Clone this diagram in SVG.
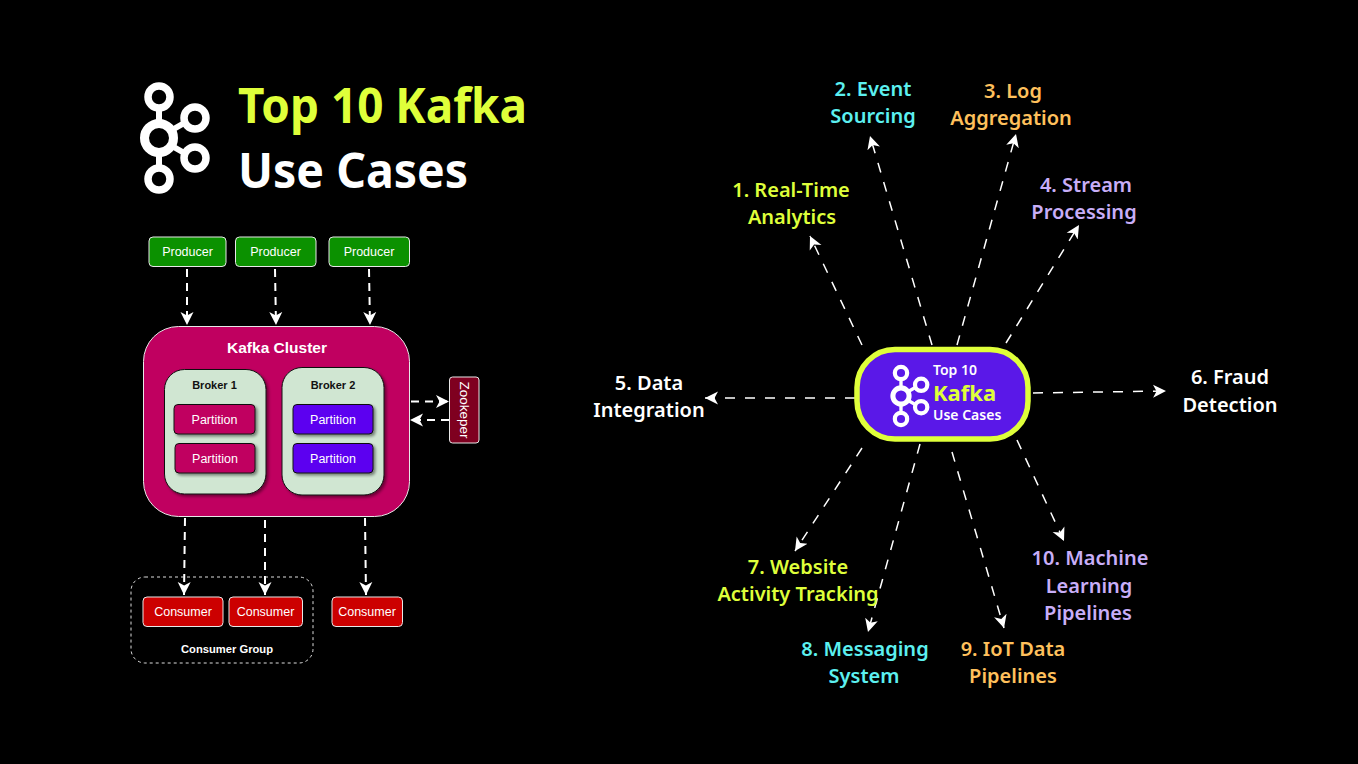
<svg xmlns="http://www.w3.org/2000/svg" width="1358" height="764" viewBox="0 0 1358 764">
<style>
text{font-family:"Noto Sans","Liberation Sans",sans-serif}
.t{font-weight:600;font-size:20px;text-anchor:middle}
.h{text-anchor:middle;fill:#fff}
text.h{font-family:"Liberation Sans",Arial,sans-serif}
.y{fill:#dfff3a}.c{fill:#5cf0f0}.o{fill:#ffc05c}.p{fill:#c8aef8}.w{fill:#fff}
.box{stroke:#e8e8e8;stroke-width:1}
.g{fill:#0b9100}.r{fill:#cc0000}.m{fill:#c00060}.v{fill:#5c00f0}
.b{fill:#d0e6d2;stroke:#111;stroke-width:1;filter:url(#sh)}
.pt{stroke:#111;stroke-width:1;filter:url(#sh)}
.a{fill:none;stroke:#fff;stroke-width:1.500;stroke-dasharray:10 10;marker-end:url(#ah)}
.a2{fill:none;stroke:#fff;stroke-width:2;stroke-dasharray:8 6;marker-end:url(#ah)}
.lg{fill:none;stroke:#fff}
</style>
<defs>
<filter id="sh" x="-10%" y="-10%" width="125%" height="125%"><feDropShadow dx="2" dy="2" stdDeviation="1.500" flood-color="#000" flood-opacity=".45"/></filter>
<marker id="ah" markerUnits="userSpaceOnUse" markerWidth="16" markerHeight="16" refX="13" refY="8" orient="auto">
<path d="M0 1.500L13 8L0 14.500L3.500 8Z" fill="#fff"/>
</marker>
<symbol id="logo" overflow="visible">
<g class="lg">
<path d="M0 -32V-18M0 18V32M13 -8L27 -16M13 8L27 16" stroke-width="6"/>
<circle r="14.500" stroke-width="9"/>
<circle cy="-41" r="11" stroke-width="7.500"/>
<circle cy="41" r="11" stroke-width="7.500"/>
<circle cx="36" cy="-20" r="11" stroke-width="7.500"/>
<circle cx="36" cy="20" r="11" stroke-width="7.500"/>
</g>
</symbol>
</defs>
<rect width="1358" height="764" fill="#000"/>
<g id="title">
<use href="#logo" x="159" y="138"/>
<text x="238" y="123" font-size="49" font-weight="700" class="y" textLength="289" lengthAdjust="spacingAndGlyphs">Top 10 Kafka</text>
<text x="238" y="188" font-size="49" font-weight="700" class="w" textLength="230" lengthAdjust="spacingAndGlyphs">Use Cases</text>
</g>
<g id="connectors">
<path class="a2" d="M187 269L187 325"/>
<path class="a2" d="M275 269L276 325"/>
<path class="a2" d="M369 269L370 325"/>
<path class="a2" d="M411 401.500L449 401.500"/>
<path class="a2" d="M449 420L410 420"/>
<path class="a2" d="M185 518L184 595"/>
<path class="a2" d="M265 520L265 595"/>
<path class="a2" d="M365 518L366 595"/>
<path class="a" d="M862 345L810 236"/>
<path class="a" d="M932 345L870 136"/>
<path class="a" d="M957 345L1016 134"/>
<path class="a" d="M1006 343L1079 225"/>
<path class="a" d="M855 398L705 398"/>
<path class="a" d="M1033 393L1166 391"/>
<path class="a" d="M862 448L795 551"/>
<path class="a" d="M920 444L868 632"/>
<path class="a" d="M952 452L1004 628"/>
<path class="a" d="M1017 440L1064 541"/>
</g>
<g id="producer1"><rect class="box g" x="149" y="237" width="77" height="29.500" rx="4"/><text class="h" x="187.500" y="256" font-size="12.500">Producer</text></g>
<g id="producer2"><rect class="box g" x="235.500" y="237" width="80.500" height="29.500" rx="4"/><text class="h" x="275.500" y="256" font-size="12.500">Producer</text></g>
<g id="producer3"><rect class="box g" x="329" y="237" width="80.500" height="29.500" rx="4"/><text class="h" x="369" y="256" font-size="12.500">Producer</text></g>
<g id="cluster">
<rect class="box m" x="143.500" y="326.500" width="266" height="190" rx="35"/>
<text class="h" x="277" y="353" font-size="15.500" font-weight="700">Kafka Cluster</text>
</g>
<g id="broker1">
<rect class="b" x="164.500" y="369.500" width="101.500" height="124.500" rx="20"/>
<text class="h" x="214.500" y="389" font-size="11" font-weight="700" style="fill:#111">Broker 1</text>
</g>
<g id="broker2">
<rect class="b" x="282" y="367.500" width="102" height="127.500" rx="20"/>
<text class="h" x="333" y="389" font-size="11" font-weight="700" style="fill:#111">Broker 2</text>
</g>
<g id="partition1"><rect class="pt m" x="174" y="404.500" width="81" height="29.500" rx="4"/><text class="h" x="214.500" y="424" font-size="12.500">Partition</text></g>
<g id="partition2"><rect class="pt m" x="175" y="443.500" width="80" height="29.500" rx="4"/><text class="h" x="215" y="463" font-size="12.500">Partition</text></g>
<g id="partition3"><rect class="pt v" x="293" y="404.500" width="80" height="29.500" rx="4"/><text class="h" x="333" y="424" font-size="12.500">Partition</text></g>
<g id="partition4"><rect class="pt v" x="293" y="443.500" width="80" height="29.500" rx="4"/><text class="h" x="333" y="463" font-size="12.500">Partition</text></g>
<g id="zookeeper"><rect x="449.500" y="377" width="29.500" height="66" rx="3" fill="#7f0020" stroke="#e8e8e8"/><text class="h" transform="translate(459.500 410) rotate(90)" font-size="13.500">Zookeper</text></g>
<g id="consumer-group"><rect x="131" y="577" width="182" height="86" rx="14" fill="none" stroke="#ddd" stroke-width="1" stroke-dasharray="3 3"/><text class="h" x="227" y="653" font-size="11.200" font-weight="700">Consumer Group</text></g>
<g id="consumer1"><rect class="box r" x="143" y="597" width="80" height="29.500" rx="4"/><text class="h" x="183" y="616" font-size="12.500">Consumer</text></g>
<g id="consumer2"><rect class="box r" x="229" y="597" width="73.500" height="29.500" rx="4"/><text class="h" x="265.500" y="616" font-size="12.500">Consumer</text></g>
<g id="consumer3"><rect class="box r" x="332" y="597" width="70.500" height="29.500" rx="4"/><text class="h" x="367" y="616" font-size="12.500">Consumer</text></g>
<g id="center">
<rect x="857" y="349.500" width="171" height="89.500" rx="38" fill="#5a18e8" stroke="#dfff3a" stroke-width="5.500"/>
<use href="#logo" transform="translate(901 396) scale(.56)"/>
<text x="933" y="375" font-size="14" font-weight="600" class="w">Top 10</text>
<text x="933" y="401" font-size="22" font-weight="700" class="y">Kafka</text>
<text x="933" y="420" font-size="14" font-weight="600" class="w">Use Cases</text>
</g>
<g id="uc1"><text class="t y" x="791" y="197">1. Real-Time</text><text class="t y" x="792" y="224">Analytics</text></g>
<g id="uc2"><text class="t c" x="873" y="96">2. Event</text><text class="t c" x="873" y="123">Sourcing</text></g>
<g id="uc3"><text class="t o" x="1013" y="98">3. Log</text><text class="t o" x="1011" y="125">Aggregation</text></g>
<g id="uc4"><text class="t p" x="1086" y="192">4. Stream</text><text class="t p" x="1084" y="219">Processing</text></g>
<g id="uc5"><text class="t w" x="649" y="390">5. Data</text><text class="t w" x="649" y="417">Integration</text></g>
<g id="uc6"><text class="t w" x="1230" y="384">6. Fraud</text><text class="t w" x="1230" y="412">Detection</text></g>
<g id="uc7"><text class="t y" x="798" y="574">7. Website</text><text class="t y" x="798" y="601">Activity Tracking</text></g>
<g id="uc8"><text class="t c" x="865" y="656">8. Messaging</text><text class="t c" x="864" y="683">System</text></g>
<g id="uc9"><text class="t o" x="1013" y="656">9. IoT Data</text><text class="t o" x="1013" y="683">Pipelines</text></g>
<g id="uc10"><text class="t p" x="1090" y="565">10. Machine</text><text class="t p" x="1089" y="593">Learning</text><text class="t p" x="1088" y="620">Pipelines</text></g>
</svg>
